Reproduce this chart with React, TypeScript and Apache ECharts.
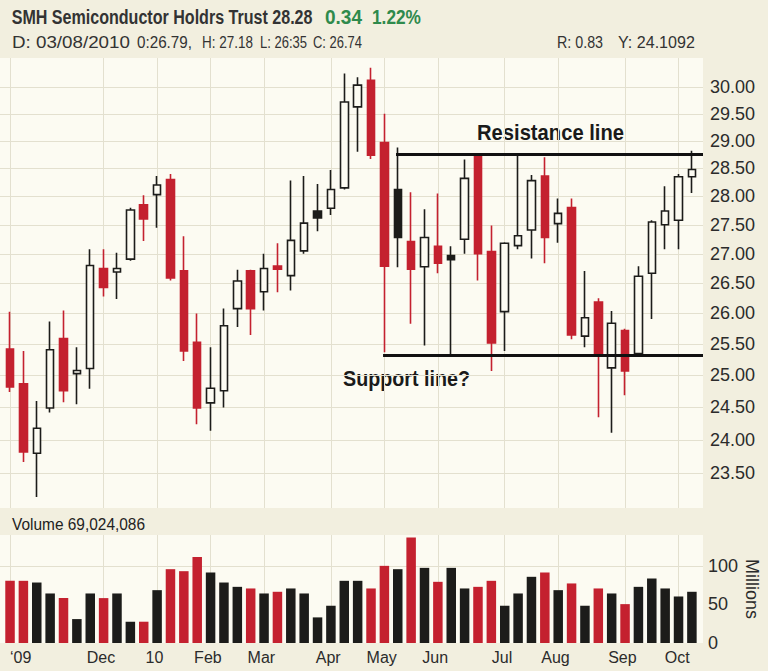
import React, { useEffect, useRef } from "react";
import * as echarts from "echarts";

// ---- Data (weekly, SMH, Oct 2009 – Oct 2010) ----
const opens = [25.42, 24.87, 23.8, 24.49, 25.59, 25.03, 25.11, 26.75, 26.69, 26.91, 27.85, 28.03, 28.3, 26.71, 25.53, 24.57, 24.76, 26.08, 26.71, 26.36, 26.79, 26.63, 27.05, 27.74, 27.79, 28.15, 29.63, 30.13, 28.97, 28.12, 27.21, 26.78, 27.13, 26.97, 27.25, 28.73, 27.04, 26.03, 27.14, 27.41, 28.36, 27.52, 27.8, 25.63, 26.19, 25.12, 25.72, 25.35, 26.67, 27.5, 27.58, 28.35];
const closes = [24.82, 23.82, 24.18, 25.41, 24.76, 25.08, 26.8, 26.43, 26.75, 27.76, 27.6, 28.2, 26.59, 25.39, 24.49, 24.8, 25.8, 26.54, 26.08, 26.75, 26.74, 27.23, 27.53, 27.62, 28.12, 29.72, 30.04, 28.74, 26.79, 27.28, 26.74, 27.28, 26.84, 26.9, 28.32, 27.0, 25.52, 27.18, 27.31, 28.28, 27.28, 27.7, 25.65, 25.93, 25.33, 25.84, 25.07, 26.62, 27.55, 27.74, 28.35, 28.48];
const lows = [24.74, 23.67, 23.15, 24.42, 24.58, 24.55, 24.79, 26.28, 26.24, 26.88, 27.22, 27.45, 26.55, 25.23, 24.24, 24.14, 24.5, 25.78, 25.65, 26.05, 26.35, 26.38, 27.0, 27.39, 27.67, 28.12, 28.8, 28.67, 25.37, 26.77, 25.83, 25.48, 26.67, 25.3, 27.0, 26.55, 25.07, 25.39, 27.08, 26.92, 26.84, 27.19, 25.58, 25.45, 24.35, 24.11, 24.69, 25.33, 25.91, 27.08, 27.08, 28.06];
const highs = [26.03, 25.39, 24.6, 25.87, 26.05, 25.45, 27.08, 27.08, 27.02, 27.8, 28.02, 28.36, 28.4, 27.3, 26.0, 25.45, 26.08, 26.73, 26.73, 27.0, 27.18, 28.28, 28.36, 28.22, 28.47, 30.26, 30.19, 30.37, 29.5, 28.88, 28.07, 27.77, 28.05, 27.13, 28.66, 28.76, 27.49, 27.2, 28.76, 28.38, 28.7, 27.96, 27.96, 26.71, 26.25, 26.04, 25.75, 26.79, 27.58, 28.18, 28.4, 28.82];
// volume, millions of shares
const volumes = [80.6, 80.6, 78.4, 64.2, 58.2, 31, 64.2, 58.2, 64.2, 27.6, 27.6, 68.5, 95.7, 93.1, 111.6, 91.4, 78.4, 72.8, 70.7, 64.2, 66.4, 70.7, 64.2, 33.2, 48.3, 80.6, 80.6, 70.7, 100, 95.7, 136.6, 97.4, 79.3, 97.4, 70.7, 72.8, 80.6, 48.3, 64.2, 85.8, 91.4, 68.5, 77.2, 48.3, 70.7, 64.2, 50.4, 72.8, 83.6, 70.7, 60.3, 66.4];

const priceTicks = [23.5, 24, 24.5, 25, 25.5, 26, 26.5, 27, 27.5, 28, 28.5, 29, 29.5, 30];
const volumeTicks = [0, 50, 100];
const volumeGridTicks = [100];
const monthGridIdx = [0, 7, 11, 15, 19, 24, 28, 32, 37, 41, 46, 50];
const monthLabelPos = [0.8, 6.8, 10.8, 14.8, 18.8, 23.8, 27.8, 31.8, 36.8, 40.8, 45.8, 49.9];
const monthLabels = ["\u201809", "Dec", "10", "Feb", "Mar", "Apr", "May", "Jun", "Jul", "Aug", "Sep", "Oct"];

const resistanceLevel = 28.75;
const resistanceFrom = 28.87;
const supportLevel = 25.33;
const supportFrom = 27.9;

const priceMin = 22.99;
const priceMax = 30.56;
const volumeMax = 140;
const xMin = -0.75;
const xMax = 51.83;

// ---- Styles ----
const OUTER_BG = "#f2efdf";
const PLOT_BG = "#fcfbf2";
const GRID = "#e3e0cf";
const RED = "#c4212f";
const BLACK = "#1c1c1a";
const TEXT = "#2b2b2b";
const GREEN = "#2f8a4c";
const FONT = '"Liberation Sans", Arial, sans-serif';

const L = Math.log;

let measureCtx: CanvasRenderingContext2D | null = null;
function fitScale(text: string, font: string, width: number): number {
  if (!measureCtx) measureCtx = document.createElement("canvas").getContext("2d");
  if (!measureCtx) return 1;
  measureCtx.font = font;
  const w = measureCtx.measureText(text).width;
  return w > 0 ? width / w : 1;
}

function txt(text: string, x: number, y: number, size: number, bold: boolean, width: number, fill: string) {
  const font = `${bold ? "bold " : ""}${size}px ${FONT}`;
  return {
    type: "text",
    x,
    y,
    scaleX: fitScale(text, font, width),
    silent: true,
    style: {
      text,
      font,
      fill,
      textAlign: "left",
      textVerticalAlign: "middle",
      align: "left",
      verticalAlign: "middle",
    },
  };
}

export default function App() {
  const ref = useRef<HTMLDivElement>(null);

  useEffect(() => {
    if (!ref.current) return;
    const chart = echarts.init(ref.current, undefined, { renderer: "svg" });

    const dirColor = (i: number) => {
      const prev = i > 0 ? closes[i - 1] : opens[i];
      return closes[i] >= prev ? BLACK : RED;
    };

    const candleData = opens.map((o, i) => {
      const c = closes[i];
      const col = dirColor(i);
      const up = c > o;
      return {
        value: [i, L(o), L(c), L(lows[i]), L(highs[i])],
        itemStyle: {
          color: up ? PLOT_BG : col,
          color0: up ? PLOT_BG : col,
          borderColor: col,
          borderColor0: col,
        },
      };
    });

    const volumeData = volumes.map((v, i) => ({
      value: [i, v],
      itemStyle: { color: dirColor(i) },
    }));

    const xBase = {
      type: "value",
      min: xMin,
      max: xMax,
      axisLine: { show: false },
      axisTick: { show: false, customValues: monthGridIdx },
      splitLine: { show: true, lineStyle: { color: GRID, width: 1 } },
    };

    const option = {
      animation: false,
      backgroundColor: OUTER_BG,
      textStyle: { fontFamily: FONT },
      grid: [
        { left: 0, top: 58, width: 703, height: 450, show: true, backgroundColor: PLOT_BG, borderWidth: 0, outerBoundsMode: "none" },
        { left: 0, top: 535, width: 703, height: 108, show: true, backgroundColor: PLOT_BG, borderWidth: 0, outerBoundsMode: "none" },
      ],
      xAxis: [
        { ...xBase, gridIndex: 0, axisLabel: { show: false } },
        {
          ...xBase,
          gridIndex: 1,
          axisLabel: {
            show: true,
            customValues: monthLabelPos,
            formatter: (v: number) => {
              const k = monthLabelPos.findIndex((p) => Math.abs(p - v) < 1e-6);
              return k >= 0 ? monthLabels[k] : "";
            },
            fontSize: 16,
            color: TEXT,
            margin: 6,
            fontFamily: FONT,
          },
        },
      ],
      yAxis: [
        {
          type: "value",
          gridIndex: 0,
          position: "right",
          min: L(priceMin),
          max: L(priceMax),
          axisLine: { show: false },
          axisTick: { show: false, customValues: priceTicks.map(L) },
          axisLabel: {
            customValues: priceTicks.map(L),
            formatter: (v: number) => Math.exp(v).toFixed(2),
            fontSize: 18,
            color: TEXT,
            margin: 7,
            fontFamily: FONT,
          },
          splitLine: { show: true, lineStyle: { color: GRID, width: 1 } },
        },
        {
          type: "value",
          gridIndex: 1,
          position: "right",
          min: 0,
          max: volumeMax,
          name: "Millions",
          nameLocation: "middle",
          nameRotate: -90,
          nameGap: 40,
          nameMoveOverlap: false,
          nameTextStyle: { fontSize: 18, color: TEXT, fontFamily: FONT },
          axisLine: { show: false },
          axisTick: { show: false, customValues: volumeGridTicks },
          axisLabel: {
            customValues: volumeTicks,
            fontSize: 18,
            color: TEXT,
            margin: 5,
            fontFamily: FONT,
          },
          splitLine: { show: true, lineStyle: { color: GRID, width: 1 } },
        },
      ],
      series: [
        {
          type: "candlestick",
          xAxisIndex: 0,
          yAxisIndex: 0,
          barWidth: 8,
          encode: { x: 0, y: [1, 2, 3, 4] },
          itemStyle: { borderWidth: 1.6 },
          emphasis: { disabled: true },
          silent: true,
          data: candleData,
          markLine: {
            symbol: ["none", "none"],
            silent: true,
            animation: false,
            label: { show: false },
            emphasis: { disabled: true },
            lineStyle: { color: "#111111", width: 3, type: "solid" },
            data: [
              [{ coord: [resistanceFrom, L(resistanceLevel)] }, { coord: [xMax, L(resistanceLevel)] }],
              [{ coord: [supportFrom, L(supportLevel)] }, { coord: [xMax, L(supportLevel)] }],
            ],
          },
        },
        {
          type: "bar",
          xAxisIndex: 1,
          yAxisIndex: 1,
          barWidth: 9.5,
          silent: true,
          emphasis: { disabled: true },
          data: volumeData,
        },
      ],
      graphic: [
        txt("SMH Semiconductor Holdrs Trust 28.28", 11.7, 17, 20, true, 301, "#333333"),
        txt("0.34", 325, 17, 20, true, 37, GREEN),
        txt("1.22%", 372, 17, 20, true, 49, GREEN),
        txt("D: 03/08/2010", 12, 42.5, 16, false, 118, "#333333"),
        txt("0:26.79,", 137, 42.5, 16, false, 55, "#333333"),
        txt("H: 27.18", 202, 42.5, 16, false, 51, "#333333"),
        txt("L: 26:35", 260, 42.5, 16, false, 47, "#333333"),
        txt("C: 26.74", 313, 42.5, 16, false, 49, "#333333"),
        txt("R: 0.83", 557, 42.5, 16, false, 46, "#333333"),
        txt("Y: 24.1092", 618, 42.5, 16, false, 77, "#333333"),
        txt("Resistance line", 477, 132, 22, true, 147, "#1a1a1a"),
        txt("Support line?", 343, 378.5, 22, true, 127, "#1a1a1a"),
        txt("Volume 69,024,086", 12, 524, 16, false, 133, "#222222"),
      ],
    };

    chart.setOption(option as any);
    return () => chart.dispose();
  }, []);

  return (
    <div
      ref={ref}
      style={{ position: "fixed", left: 0, top: 0, width: 768, height: 671, background: OUTER_BG }}
    />
  );
}
